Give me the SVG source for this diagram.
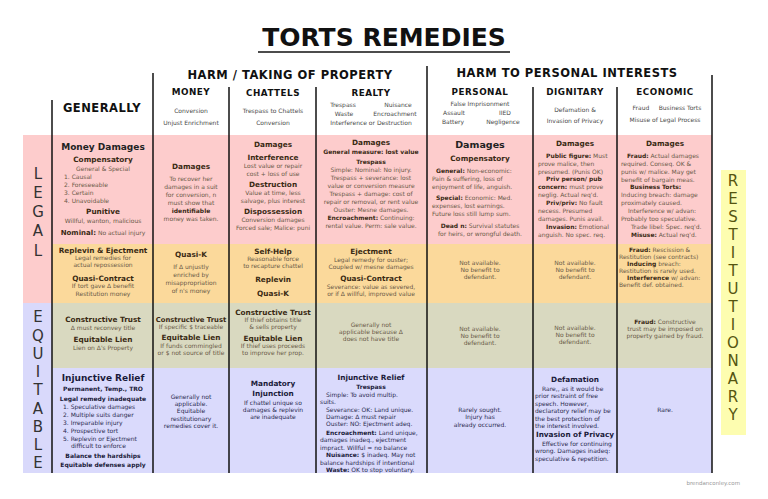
<svg xmlns="http://www.w3.org/2000/svg" width="768" height="499" viewBox="0 0 768 499">
<style>
text{font-family:"DejaVu Sans",Verdana,sans-serif;fill:#6a5a48;font-size:6px}
.c{text-anchor:middle}
.b{font-weight:bold;fill:#3a2a14}
.h{font-weight:bold;fill:#3a2a14;font-size:7.3px;text-anchor:middle}
.hb{font-weight:bold;fill:#222;font-size:9px;text-anchor:middle}
.top{font-weight:bold;fill:#111;font-size:11.5px;text-anchor:middle;letter-spacing:0.5px}
.sub{font-weight:bold;fill:#111;font-size:8.8px;text-anchor:middle;letter-spacing:0.5px}
.sh{fill:#4a4a4a;font-size:6px;text-anchor:middle}
.bl{fill:#2a2a50}
.lv{font-size:15px;fill:#333;text-anchor:middle}
.rv{font-size:15px;fill:#555510;text-anchor:middle}
.v{stroke:#111;stroke-width:1.5}
</style>
<text x="384" y="46" style="font-size:25px;font-weight:bold;fill:#111;font-family:'DejaVu Sans',sans-serif" text-anchor="middle">TORTS REMEDIES</text>
<line x1="258" y1="52" x2="510" y2="52" stroke="#111" stroke-width="1.5"/>
<g id="bands">
<rect x="23" y="135" width="689" height="109" fill="#fdcccc"/>
<rect x="52" y="244" width="660" height="59" fill="#fbd99b"/>
<rect x="23" y="244" width="29" height="59" fill="#fdcccc"/>
<rect x="23" y="303" width="29" height="170" fill="#d9d9fb"/>
<rect x="52" y="303" width="660" height="65" fill="#d9d9c0"/>
<rect x="52" y="368" width="660" height="105" fill="#dadafc"/>
<rect x="721" y="170" width="25" height="265" fill="#fdfdb0"/>
</g>
<g id="connectors">
<line class="v" x1="52" y1="100" x2="52" y2="473"/>
<line class="v" x1="153" y1="73" x2="153" y2="473"/>
<line class="v" x1="229" y1="87" x2="229" y2="473"/>
<line class="v" x1="316" y1="87" x2="316" y2="473"/>
<line class="v" x1="427" y1="66" x2="427" y2="473"/>
<line class="v" x1="533" y1="87" x2="533" y2="473"/>
<line class="v" x1="617" y1="87" x2="617" y2="473"/>
<line class="v" x1="712" y1="75" x2="712" y2="473"/>
</g>
<g id="headers">
<text class="top" x="290" y="79">HARM / TAKING OF PROPERTY</text>
<text class="top" x="567" y="77">HARM TO PERSONAL INTERESTS</text>
<text class="top" x="102" y="112">GENERALLY</text>
<text class="sub" x="191" y="95">MONEY</text>
<text class="sub" x="273" y="96">CHATTELS</text>
<text class="sub" x="371" y="96">REALTY</text>
<text class="sub" x="480" y="95">PERSONAL</text>
<text class="sub" x="575" y="95">DIGNITARY</text>
<text class="sub" x="665" y="95">ECONOMIC</text>
<text class="sh" x="191" y="113">Conversion</text><text class="sh" x="191" y="125">Unjust Enrichment</text>
<text class="sh" x="273" y="113">Trespass to Chattels</text><text class="sh" x="273" y="125">Conversion</text>
<text class="sh" x="343" y="107">Trespass</text><text class="sh" x="398" y="107">Nuisance</text>
<text class="sh" x="344" y="116">Waste</text><text class="sh" x="395" y="116">Encroachment</text>
<text class="sh" x="371" y="125">Interference or Destruction</text>
<text class="sh" x="480" y="106">False Imprisonment</text>
<text class="sh" x="454" y="115">Assault</text><text class="sh" x="505" y="115">IIED</text>
<text class="sh" x="453" y="124">Battery</text><text class="sh" x="503" y="124">Negligence</text>
<text class="sh" x="575" y="112">Defamation &amp;</text><text class="sh" x="575" y="123">Invasion of Privacy</text>
<text class="sh" x="641" y="110">Fraud</text><text class="sh" x="680" y="110">Business Torts</text>
<text class="sh" x="665" y="122">Misuse of Legal Process</text>
</g>
<g id="side-legal">
<text class="lv" x="38" y="179">L</text><text class="lv" x="38" y="198">E</text><text class="lv" x="38" y="217">G</text><text class="lv" x="38" y="236">A</text><text class="lv" x="38" y="256">L</text>
</g>
<g id="side-equitable">
<text class="lv" x="38" y="322">E</text><text class="lv" x="38" y="341">Q</text><text class="lv" x="38" y="359">U</text><text class="lv" x="38" y="377">I</text><text class="lv" x="38" y="395">T</text><text class="lv" x="38" y="414">A</text><text class="lv" x="38" y="432">B</text><text class="lv" x="38" y="450">L</text><text class="lv" x="38" y="468">E</text>
</g>
<g id="side-restitutionary">
<text class="rv" x="733" y="186">R</text><text class="rv" x="733" y="204">E</text><text class="rv" x="733" y="222">S</text><text class="rv" x="733" y="240">T</text><text class="rv" x="733" y="258">I</text><text class="rv" x="733" y="276">T</text><text class="rv" x="733" y="294">U</text><text class="rv" x="733" y="312">T</text><text class="rv" x="733" y="330">I</text><text class="rv" x="733" y="348">O</text><text class="rv" x="733" y="366">N</text><text class="rv" x="733" y="384">A</text><text class="rv" x="733" y="402">R</text><text class="rv" x="733" y="420">Y</text>
</g>
<g id="legal-generally">
<text class="hb" x="103" y="150">Money Damages</text>
<text class="h" x="103" y="162">Compensatory</text>
<text class="c" x="103" y="171">General &amp; Special</text>
<text x="64" y="179">1. Causal</text><text x="64" y="187">2. Foreseeable</text><text x="64" y="195">3. Certain</text><text x="64" y="203">4. Unavoidable</text>
<text class="h" x="103" y="214">Punitive</text>
<text class="c" x="103" y="223">Willful, wanton, malicious</text>
<text class="c" x="103" y="235"><tspan class="b" style="font-size:7px">Nominal:</tspan> No actual injury</text>
</g>
<g id="legal-money">
<text class="h" x="191" y="169">Damages</text>
<text class="c" x="191" y="181">To recover her</text><text class="c" x="191" y="189">damages in a suit</text><text class="c" x="191" y="197">for conversion, n</text><text class="c" x="191" y="205">must show that</text>
<text class="c b" x="191" y="213">identifiable</text><text class="c" x="191" y="221">money was taken.</text>
</g>
<g id="legal-chattels">
<text class="h" x="273" y="147">Damages</text>
<text class="h" x="273" y="160">Interference</text>
<text class="c" x="273" y="168">Lost value or repair</text><text class="c" x="273" y="176">cost + loss of use</text>
<text class="h" x="273" y="187">Destruction</text>
<text class="c" x="273" y="195">Value at time, less</text><text class="c" x="273" y="203">salvage, plus interest</text>
<text class="h" x="273" y="214">Dispossession</text>
<text class="c" x="273" y="222">Conversion damages</text><text class="c" x="273" y="230">Forced sale; Malice: puni</text>
</g>
<g id="legal-realty">
<text class="h" x="371" y="145">Damages</text>
<text class="c b" x="371" y="154">General measure: lost value</text>
<text class="c b" x="371" y="164">Trespass</text>
<text class="c" x="371" y="172">Simple: Nominal: No injury.</text>
<text class="c" x="371" y="180">Trespass + severance: lost</text>
<text class="c" x="371" y="188">value or conversion measure</text>
<text class="c" x="371" y="196">Trespass + damage: cost of</text>
<text class="c" x="371" y="204">repair or removal, or rent value</text>
<text class="c" x="371" y="212">Ouster: Mesne damages.</text>
<text class="c" x="371" y="220"><tspan class="b">Encroachment:</tspan> Continuing:</text>
<text class="c" x="371" y="228">rental value.  Perm: sale value.</text>
</g>
<g id="legal-personal">
<text class="hb" x="480" y="148" style="font-size:9.5px">Damages</text>
<text class="h" x="480" y="161">Compensatory</text>
<text x="436" y="173"><tspan class="b">General:</tspan> Non-economic:</text>
<text x="432" y="181">Pain &amp; suffering, loss of</text>
<text x="432" y="189">enjoyment of life, anguish.</text>
<text x="436" y="200"><tspan class="b">Special:</tspan> Economic: Med.</text>
<text x="432" y="208">expenses, lost earnings.</text>
<text x="432" y="216">Future loss still lump sum.</text>
<text x="480" y="228" class="c"><tspan class="b">Dead n:</tspan> Survival statutes</text>
<text x="480" y="236" class="c">for heirs, or wrongful death.</text>
</g>
<g id="legal-dignitary">
<text class="h" x="575" y="146">Damages</text>
<text x="546" y="158"><tspan class="b">Public figure:</tspan> Must</text>
<text x="538" y="166">prove malice, then</text>
<text x="538" y="174">presumed.  (Punis OK)</text>
<text x="546" y="181" class="b">Priv person/ pub</text>
<text x="538" y="189"><tspan class="b">concern:</tspan> must prove</text>
<text x="538" y="197">neglig.  Actual req'd.</text>
<text x="546" y="205"><tspan class="b">Priv/priv:</tspan> No fault</text>
<text x="538" y="213">necess.  Presumed</text>
<text x="538" y="221">damages.  Punis avail.</text>
<text x="546" y="229"><tspan class="b">Invasion:</tspan> Emotional</text>
<text x="538" y="237">anguish.  No spec. req.</text>
</g>
<g id="legal-economic">
<text class="h" x="665" y="146">Damages</text>
<text x="627" y="158"><tspan class="b">Fraud:</tspan> Actual damages</text>
<text x="621" y="166">required.  Conseq. OK &amp;</text>
<text x="621" y="174">punis w/ malice.  May get</text>
<text x="621" y="182">benefit of bargain meas.</text>
<text x="630" y="189" class="b">Business Torts:</text>
<text x="621" y="197">Inducing breach: damage</text>
<text x="621" y="205">proximately caused.</text>
<text x="628" y="213">Interference w/ advan:</text>
<text x="621" y="221">Probably too speculative.</text>
<text x="631" y="229">Trade libel: Spec. req'd.</text>
<text x="631" y="237"><tspan class="b">Misuse:</tspan> Actual req'd.</text>
</g>
<g id="rest-generally">
<text class="h" x="103" y="253">Replevin &amp; Ejectment</text>
<text class="c" x="103" y="260">Legal remedies for</text><text class="c" x="103" y="267">actual repossession</text>
<text class="h" x="103" y="281">Quasi-Contract</text>
<text class="c" x="103" y="288">If tort gave Δ benefit</text><text class="c" x="103" y="296">Restitution money</text>
</g>
<g id="rest-money">
<text class="h" x="191" y="257">Quasi-K</text>
<text class="c" x="191" y="269">If Δ unjustly</text><text class="c" x="191" y="277">enriched by</text><text class="c" x="191" y="285">misappropriation</text><text class="c" x="191" y="293">of n's money</text>
</g>
<g id="rest-chattels">
<text class="h" x="273" y="254">Self-Help</text>
<text class="c" x="273" y="261">Reasonable force</text><text class="c" x="273" y="268">to recapture chattel</text>
<text class="h" x="273" y="282">Replevin</text>
<text class="h" x="273" y="296">Quasi-K</text>
</g>
<g id="rest-realty">
<text class="h" x="371" y="254">Ejectment</text>
<text class="c" x="371" y="262">Legal remedy for ouster;</text><text class="c" x="371" y="269">Coupled w/ mesne damages</text>
<text class="h" x="371" y="281">Quasi-Contract</text>
<text class="c" x="371" y="289">Severance: value as severed,</text><text class="c" x="371" y="296">or if Δ willful, improved value</text>
</g>
<g id="rest-personal"><text class="c" x="480" y="265">Not available.</text><text class="c" x="480" y="272">No benefit to</text><text class="c" x="480" y="279">defendant.</text></g>
<g id="rest-dignitary"><text class="c" x="575" y="265">Not available.</text><text class="c" x="575" y="272">No benefit to</text><text class="c" x="575" y="279">defendant.</text></g>
<g id="rest-economic">
<text x="629" y="252"><tspan class="b">Fraud:</tspan> Rescission &amp;</text>
<text x="619" y="259">Restitution (see contracts)</text>
<text x="627" y="266"><tspan class="b">Inducing</tspan> breach:</text>
<text x="619" y="273">Restitution is rarely used.</text>
<text x="627" y="280"><tspan class="b">Interference</tspan> w/ advan:</text>
<text x="619" y="287">Benefit def. obtained.</text>
</g>
<g id="ct-generally">
<text class="h" x="103" y="322">Constructive Trust</text><text class="c" x="103" y="330">Δ must reconvey title</text>
<text class="h" x="103" y="342">Equitable Lien</text><text class="c" x="103" y="350">Lien on Δ's Property</text>
</g>
<g id="ct-money">
<text class="h" x="191" y="322" style="font-size:6.8px">Constructive Trust</text><text class="c" x="191" y="329">If specific $ traceable</text>
<text class="h" x="191" y="340">Equitable Lien</text><text class="c" x="191" y="348">If funds commingled</text><text class="c" x="191" y="355">or $ not source of title</text>
</g>
<g id="ct-chattels">
<text class="h" x="273" y="315">Constructive Trust</text><text class="c" x="273" y="322">If thief obtains title</text><text class="c" x="273" y="329">&amp; sells property</text>
<text class="h" x="273" y="341">Equitable Lien</text><text class="c" x="273" y="348">If thief uses proceeds</text><text class="c" x="273" y="355">to improve her prop.</text>
</g>
<g id="ct-realty"><text class="c" x="371" y="327">Generally not</text><text class="c" x="371" y="334">applicable because Δ</text><text class="c" x="371" y="341">does not have title</text></g>
<g id="ct-personal"><text class="c" x="480" y="331">Not available.</text><text class="c" x="480" y="338">No benefit to</text><text class="c" x="480" y="345">defendant.</text></g>
<g id="ct-dignitary"><text class="c" x="575" y="330">Not available.</text><text class="c" x="575" y="337">No benefit to</text><text class="c" x="575" y="344">defendant.</text></g>
<g id="ct-economic"><text class="c" x="665" y="324"><tspan class="b">Fraud:</tspan> Constructive</text><text class="c" x="665" y="331">trust may be imposed on</text><text class="c" x="665" y="338">property gained by fraud.</text></g>
<g id="inj-generally">
<text class="hb" x="103" y="381" style="fill:#1a1a3a">Injunctive Relief</text>
<text class="c b" x="103" y="391" style="fill:#1a1a3a">Permanent, Temp.,  TRO</text>
<text class="c b" x="103" y="401" style="fill:#1a1a3a">Legal remedy inadequate</text>
<text class="bl" x="63" y="409">1. Speculative damages</text><text class="bl" x="63" y="417">2. Multiple suits danger</text><text class="bl" x="63" y="425">3. Irreparable injury</text><text class="bl" x="63" y="433">4. Prospective tort</text><text class="bl" x="63" y="441">5. Replevin or Ejectment</text><text class="bl" x="71" y="448">difficult to enforce</text>
<text class="c b" x="103" y="458" style="fill:#1a1a3a">Balance the hardships</text>
<text class="c b" x="103" y="467" style="fill:#1a1a3a">Equitable defenses apply</text>
</g>
<g id="inj-money"><text class="c bl" x="191" y="399">Generally not</text><text class="c bl" x="191" y="406">applicable.</text><text class="c bl" x="191" y="413">Equitable</text><text class="c bl" x="191" y="421">restitutionary</text><text class="c bl" x="191" y="428">remedies cover it.</text></g>
<g id="inj-chattels">
<text class="h" x="273" y="386" style="fill:#1a1a3a">Mandatory</text><text class="h" x="273" y="396" style="fill:#1a1a3a">Injunction</text>
<text class="c bl" x="273" y="405">If chattel unique so</text><text class="c bl" x="273" y="412">damages &amp; replevin</text><text class="c bl" x="273" y="419">are inadequate</text>
</g>
<g id="inj-realty">
<text class="h" x="371" y="380" style="fill:#1a1a3a">Injunctive Relief</text>
<text class="c b" x="371" y="389" style="fill:#1a1a3a">Trespass</text>
<text class="bl" x="326" y="397">Simple: To avoid multip.</text><text class="bl" x="320" y="404">suits.</text>
<text class="bl" x="326" y="412">Severance: OK: Land unique.</text><text class="bl" x="326" y="419">Damage: Δ must repair</text><text class="bl" x="326" y="426">Ouster: NO: Ejectment adeq.</text>
<text class="bl" x="326" y="435"><tspan class="b" style="fill:#1a1a3a">Encroachment:</tspan> Land unique,</text>
<text class="bl" x="320" y="442">damages inadeq., ejectment</text><text class="bl" x="320" y="450">impract.  Willful = no balance</text>
<text class="bl" x="326" y="457"><tspan class="b" style="fill:#1a1a3a">Nuisance:</tspan> $ inadeq.  May not</text>
<text class="bl" x="320" y="465">balance hardships if intentional</text>
<text class="bl" x="326" y="472"><tspan class="b" style="fill:#1a1a3a">Waste:</tspan> OK to stop voluntary.</text>
</g>
<g id="inj-personal"><text class="c bl" x="480" y="412">Rarely sought.</text><text class="c bl" x="480" y="419">Injury has</text><text class="c bl" x="480" y="427">already occurred.</text></g>
<g id="inj-dignitary">
<text class="h" x="575" y="382" style="fill:#1a1a3a">Defamation</text>
<text class="bl" x="542" y="391">Rare,, as it would be</text><text class="bl" x="535" y="398">prior restraint of free</text><text class="bl" x="535" y="406">speech.  However,</text><text class="bl" x="535" y="413">declaratory relief may be</text><text class="bl" x="535" y="421">the best protection of</text><text class="bl" x="535" y="428">the interest involved.</text>
<text class="h" x="575" y="437" style="fill:#1a1a3a">Invasion of Privacy</text>
<text class="bl" x="542" y="446">Effective for continuing</text><text class="bl" x="535" y="453">wrong. Damages inadeq:</text><text class="bl" x="535" y="461">speculative &amp; repetition.</text>
</g>
<g id="inj-economic"><text class="c bl" x="665" y="412">Rare.</text></g>
<text x="740" y="485" style="font-size:5.5px;fill:#999" text-anchor="end">brendanconley.com</text>
</svg>
